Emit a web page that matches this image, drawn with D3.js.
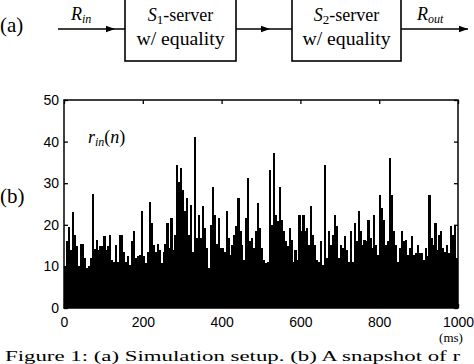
<!DOCTYPE html>
<html>
<head>
<meta charset="utf-8">
<script src="https://cdn.jsdelivr.net/npm/d3@7"></script>
<style>
  html, body { margin: 0; padding: 0; background: #fff; }
  svg { display: block; }
</style>
</head>
<body>
<svg id="chart" width="474" height="364"></svg>
<script>
// ---- data ----
const binMs = 5; // each bar covers 5 ms
const rin = [
  10, 16, 19.5, 14, 23, 17.5, 15, 10, 15.5, 15.5,
  12, 9.5, 10, 12, 27.3, 14.3, 16.4, 14, 15, 14.8,
  17.2, 14, 14.8, 17.6, 11.5, 11, 15.2, 11, 17.6, 17.6,
  13.5, 11, 12.4, 10.4, 16, 18.4, 12, 12.4, 12.8, 23.3,
  12.4, 10.7, 13.5, 25.6, 20.4, 15.2, 13.5, 15.5, 14, 10.7,
  13.5, 15.5, 20.4, 14.4, 21.6, 14, 17.6, 34.4, 30.4, 33.6,
  28.4, 23.2, 26.4, 17.6, 24.8, 13.5, 41.2, 16.8, 22.4, 16.8,
  24.4, 19.2, 14.4, 9.6, 20, 29.2, 22.4, 15.5, 21.6, 14.4,
  14.4, 13.5, 23.2, 16.8, 12.8, 15.2, 17.6, 19.6, 26.4, 18.4,
  15.2, 11.5, 21.6, 31.2, 16, 16.8, 14.4, 18.4, 25.2, 19.2,
  14.4, 11.5, 10.7, 11, 33.2, 20, 37.2, 22.4, 20.8, 29.2,
  21.2, 18.4, 16, 14.8, 19.2, 16.4, 11, 14, 11.5, 22.4,
  18.4, 22.4, 18.4, 19.2, 15.2, 24.4, 17.6, 15.2, 11.5, 11,
  16, 10.4, 34.4, 12, 18.4, 15.2, 17.6, 22.4, 19.6, 12,
  15.2, 14.4, 17.2, 14, 11, 18.4, 11, 20.4, 16, 23.2,
  18.4, 15.2, 16.4, 16, 21.2, 16.8, 14.4, 22.4, 15.2, 12.8,
  27.2, 24, 21.2, 15.2, 16, 36, 27.2, 18.4, 15.2, 11,
  14.4, 18.4, 16, 16.4, 12.8, 14.4, 17.2, 12.8, 13.2, 15.2,
  13.2, 13.2, 11.5, 14.4, 12.4, 27.2, 16.8, 15.2, 20.4, 14,
  17.6, 18.4, 14.4, 13.5, 15.2, 13.2, 19.6, 17.6, 20, 12
];
const xTicks = [0, 200, 400, 600, 800, 1000];
const yTicks = [0, 10, 20, 30, 40, 50];
const xDomain = [0, 1000];
const yDomain = [0, 50];

const svg = d3.select("#chart");
const serif = "'Liberation Serif', 'DejaVu Serif', serif";
const sans = "'Liberation Sans', Arial, sans-serif";

// ---- (a) block diagram ----
const diag = svg.append("g");
diag.append("text").attr("x", 0).attr("y", 32)
  .attr("font-family", serif).attr("font-size", 21).text("(a)");

function arrowHead(g, x, y) {
  g.append("path").attr("d", `M${x},${y} L${x-9},${y-3.2} L${x-9},${y+3.2} Z`).attr("fill", "#000");
}
const lineY = 29;
[[58, 125, 115], [236, 292, 270], [401, 468, 468]].forEach(([x1, x2, ah]) => {
  diag.append("line").attr("x1", x1).attr("x2", x2).attr("y1", lineY).attr("y2", lineY)
    .attr("stroke", "#000").attr("stroke-width", 1.5);
  arrowHead(diag, ah, lineY);
});
[[125, 236], [292, 401]].forEach(([x1, x2], i) => {
  diag.append("rect").attr("x", x1).attr("y", -1).attr("width", x2 - x1).attr("height", 62)
    .attr("fill", "none").attr("stroke", "#000").attr("stroke-width", 1.6);
  const cx = (x1 + x2) / 2;
  const t1 = diag.append("text").attr("x", cx).attr("y", 21).attr("text-anchor", "middle")
    .attr("font-family", serif).attr("font-size", 18);
  t1.append("tspan").attr("font-style", "italic").text("S");
  t1.append("tspan").attr("font-size", 13).attr("dy", 3).text(String(i + 1));
  t1.append("tspan").attr("dy", -3).text("-server");
  diag.append("text").attr("x", cx).attr("y", 45).attr("text-anchor", "middle")
    .attr("font-family", serif).attr("font-size", 18)
    .attr("textLength", 88).attr("lengthAdjust", "spacingAndGlyphs").text("w/ equality");
});
function subLabel(x, y, main, sub) {
  const t = diag.append("text").attr("x", x).attr("y", y)
    .attr("font-family", serif).attr("font-size", 18).attr("font-style", "italic");
  t.append("tspan").text(main);
  t.append("tspan").attr("font-size", 12).attr("dy", 3).text(sub);
}
subLabel(71, 20, "R", "in");
subLabel(417, 20, "R", "out");

// ---- (b) bar chart ----
const x = d3.scaleLinear().domain(xDomain).range([64, 458]);
const y = d3.scaleLinear().domain(yDomain).range([308, 100]);

svg.append("text").attr("x", 0).attr("y", 203)
  .attr("font-family", serif).attr("font-size", 21).text("(b)");

svg.append("g").attr("shape-rendering", "crispEdges")
  .selectAll("rect").data(rin).join("rect")
  .attr("x", (d, i) => x(i * binMs))
  .attr("width", (d, i) => x((i + 1) * binMs) - x(i * binMs) + 0.2)
  .attr("y", d => y(d))
  .attr("height", d => y(0) - y(d))
  .attr("fill", "#000");

// frame
svg.append("rect").attr("x", x(0)).attr("y", y(50)).attr("width", x(1000) - x(0)).attr("height", y(0) - y(50))
  .attr("fill", "none").attr("stroke", "#000").attr("stroke-width", 1.5);

const fmt = d3.format("d");
const axL = svg.append("g").attr("transform", `translate(${x(0)},0)`)
  .call(d3.axisLeft(y).tickValues(yTicks).tickSize(-4).tickPadding(5).tickFormat(fmt));
const axR = svg.append("g").attr("transform", `translate(${x(1000)},0)`)
  .call(d3.axisRight(y).tickValues(yTicks).tickSize(-4).tickFormat(""));
const axT = svg.append("g").attr("transform", `translate(0,${y(50)})`)
  .call(d3.axisTop(x).tickValues(xTicks).tickSize(-4).tickFormat(""));
const axB = svg.append("g").attr("transform", `translate(0,${y(0)})`)
  .call(d3.axisBottom(x).tickValues(xTicks).tickSize(-4).tickPadding(9).tickFormat(fmt));
[axL, axR, axT, axB].forEach(a => {
  a.select(".domain").remove();
  a.selectAll(".tick line").attr("stroke", "#000").attr("stroke-width", 1.3);
  a.selectAll("text").attr("font-family", sans).attr("font-size", 14).attr("fill", "#000");
});

svg.append("text").attr("x", 451).attr("y", 342).attr("text-anchor", "middle")
  .attr("font-family", serif).attr("font-size", 13).text("(ms)");

// r_in(n) label
const rl = svg.append("text").attr("x", 88).attr("y", 143)
  .attr("font-family", serif).attr("font-size", 18);
rl.append("tspan").attr("font-style", "italic").text("r");
rl.append("tspan").attr("font-style", "italic").attr("font-size", 12).attr("dy", 3).text("in");
rl.append("tspan").attr("dy", -3).text("(");
rl.append("tspan").attr("font-style", "italic").text("n");
rl.append("tspan").text(")");

// caption (sits at the very bottom edge, as in the reference)
svg.append("text").attr("x", 5).attr("y", 361)
  .attr("font-family", serif).attr("font-size", 14)
  .attr("textLength", 455).attr("lengthAdjust", "spacingAndGlyphs")
  .text("Figure 1: (a) Simulation setup. (b) A snapshot of r");
</script>
</body>
</html>
